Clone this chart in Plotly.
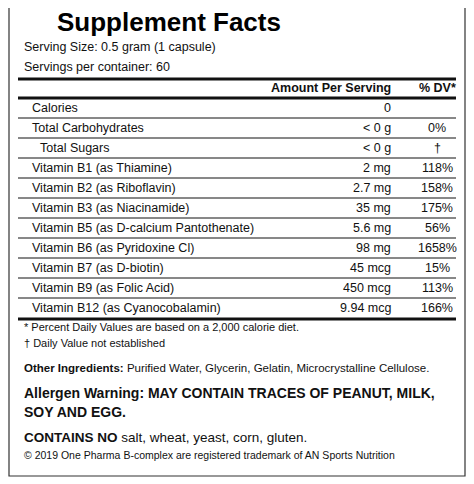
import plotly.graph_objects as go

# Label contents
title = "Supplement Facts"
serving_size = "Serving Size: 0.5 gram (1 capsule)"
servings = "Servings per container: 60"

nutrients = ["Calories", "Total Carbohydrates", "Total Sugars",
             "Vitamin B1 (as Thiamine)", "Vitamin B2 (as Riboflavin)",
             "Vitamin B3 (as Niacinamide)", "Vitamin B5 (as D-calcium Pantothenate)",
             "Vitamin B6 (as Pyridoxine Cl)", "Vitamin B7 (as D-biotin)",
             "Vitamin B9 (as Folic Acid)", "Vitamin B12 (as Cyanocobalamin)"]
amounts = ["0", "< 0 g", "< 0 g", "2 mg", "2.7 mg", "35 mg", "5.6 mg",
           "98 mg", "45 mcg", "450 mcg", "9.94 mcg"]
daily_values = ["", "0%", "†", "118%", "158%", "175%", "56%",
                "1658%", "15%", "113%", "166%"]
indented = ["Total Sugars"]

footnotes = ["* Percent Daily Values are based on a 2,000 calorie diet.",
             "† Daily Value not established"]
other_ingredients = "Purified Water, Glycerin, Gelatin, Microcrystalline Cellulose."
allergen = ["<b>Allergen Warning: MAY CONTAIN TRACES OF PEANUT, MILK,</b>",
            "<b>SOY AND EGG.</b>"]
contains_no = "salt, wheat, yeast, corn, gluten."
copyright_line = "© 2019 One Pharma B-complex are registered trademark of AN Sports Nutrition"

FONT = "Liberation Sans"
fig = go.Figure()
shapes = []
ann = []


def text(x, y, s, size=12.5, anchor="left", color="#111"):
    ann.append(dict(x=x, y=y, text=s, showarrow=False, xanchor=anchor,
                    yanchor="middle", font=dict(family=FONT, size=size, color=color)))


def hline(y, w):
    shapes.append(dict(type="line", x0=18, x1=456, y0=y, y1=y,
                       line=dict(color="#111", width=w)))


# outer border
shapes.append(dict(type="rect", x0=9, x1=465, y0=6, y1=476,
                   line=dict(color="#333", width=1.2)))

text(55, 22, "<b>" + title + "</b>", size=26, color="#000")
text(22, 47, serving_size)
text(22, 67, servings)
hline(79, 3)
text(393, 88, "<b>Amount Per Serving</b>", anchor="right")
text(437, 88, "<b>% DV*</b>", anchor="center")
hline(98, 3)

row_top = 98
row_h = 20
for i, (name, amt, dv) in enumerate(zip(nutrients, amounts, daily_values)):
    yc = row_top + row_h * i + row_h / 2
    x = 38 if name in indented else 30
    text(x, yc, name)
    text(393, yc, amt, anchor="right")
    text(437, yc, dv, anchor="center")
    if i < len(nutrients) - 1:
        hline(row_top + row_h * (i + 1), 1)
hline(row_top + row_h * len(nutrients) + 1, 3)

text(22, 327, footnotes[0], size=11)
text(22, 343, footnotes[1], size=11)
text(22, 368, "<b>Other Ingredients:</b> " + other_ingredients, size=11.5)
text(22, 393, allergen[0], size=14)
text(22, 412, allergen[1], size=14)
text(22, 437, "<b>CONTAINS NO</b> " + contains_no, size=13.5)
text(22, 455, copyright_line, size=10.5)

# page body has an 8px margin, so the axes start at 8
fig.update_layout(
    width=460, height=470, margin=dict(l=0, r=0, t=0, b=0),
    plot_bgcolor="white", paper_bgcolor="white",
    xaxis=dict(range=[8, 468], visible=False, fixedrange=True),
    yaxis=dict(range=[478, 8], visible=False, fixedrange=True),
    shapes=shapes, annotations=ann, showlegend=False,
)
fig.write_html("out.html")
